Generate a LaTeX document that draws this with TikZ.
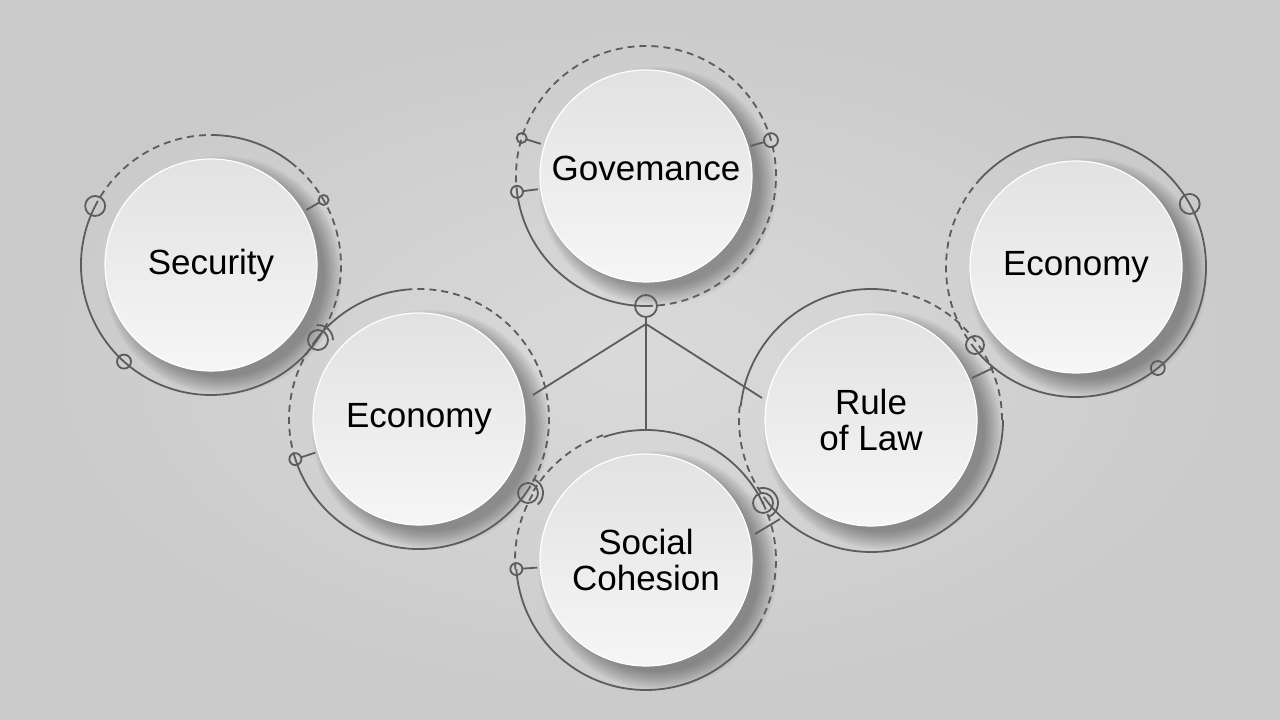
\documentclass[tikz,border=0pt]{standalone}
\usepackage{fontspec}
\setmainfont{Liberation Sans}
\definecolor{bgin}{HTML}{DADADA}
\definecolor{bgout}{HTML}{CACACA}
\definecolor{ringc}{HTML}{5C5C5C}
\definecolor{ctop}{HTML}{E2E2E2}
\definecolor{cbot}{HTML}{F6F6F6}
\newcommand\dropshadow[1]{\foreach \k in {1,...,12}{\fill[black,opacity=0.03] ([shift={(12pt,-10pt)}]#1) circle[radius=100+1.6*\k];}}
\newcommand\ringarc[5]{\draw[#1] (#2) ++({#3}:{#5}) arc[start angle=#3,end angle=#4,radius=#5];}
\newcommand\ringknob[4]{\draw[knob] (#1) ++({#2}:{#3}) circle[radius=#4];}
\newcommand\ringtick[4]{\draw[knob] (#1) ++({#2}:{#3}) -- ++({#2+180}:{#4});}
\begin{document}
\begin{tikzpicture}[x=1pt,y=1pt,
  bub/.style={circle, minimum size=212pt, inner sep=0pt, draw=white, line width=1.2pt,
    top color=ctop, bottom color=cbot, align=center,
    font=\fontsize{35}{36}\selectfont, text=black},
  ringsolid/.style={draw=ringc, line width=1.8pt},
  ringdash/.style={draw=ringc, line width=1.8pt, dash pattern=on 7pt off 5pt},
  knob/.style={draw=ringc, line width=1.8pt},
  spoke/.style={draw=ringc, line width=1.8pt}]
\shade[inner color=bgin, outer color=bgout] (0,0) rectangle (1280,720);
\useasboundingbox (0,0) rectangle (1280,720);
% centres
\coordinate (cGov) at (646,544);
\coordinate (cSec) at (211,455);
\coordinate (cEcoL) at (419,301);
\coordinate (cSoc) at (646,160);
\coordinate (cRule) at (871,300);
\coordinate (cEcoR) at (1076,453);
% shadows
\dropshadow{cGov}\dropshadow{cSec}\dropshadow{cEcoL}
\dropshadow{cSoc}\dropshadow{cRule}\dropshadow{cEcoR}
% Governance ring
\ringarc{ringsolid}{cGov}{187}{270}{130}
\ringarc{ringdash}{cGov}{270}{547}{130}
\ringknob{cGov}{163}{130}{5}\ringtick{cGov}{163}{125}{15}
\ringknob{cGov}{187}{130}{6}\ringtick{cGov}{187}{124}{15}
\ringknob{cGov}{16}{130}{7}\ringtick{cGov}{16}{123}{14}
\coordinate (govKnob) at (646,414);
\draw[knob] (govKnob) circle[radius=11];
\draw[draw=ringc, line width=1pt] ([xshift=-3pt]govKnob) -- ([xshift=3pt]govKnob);
% Security ring
\ringarc{ringsolid}{cSec}{153}{325}{130}
\ringarc{ringdash}{cSec}{325}{409}{130}
\ringarc{ringsolid}{cSec}{49}{87}{130}
\ringarc{ringdash}{cSec}{87}{153}{130}
\ringknob{cSec}{153}{130}{10}
\ringknob{cSec}{30}{130}{5}\ringtick{cSec}{30}{125}{15}
\ringknob{cSec}{228}{130}{7}
% Economy (left) ring
\ringarc{ringsolid}{cEcoL}{94}{142}{130}
\ringarc{ringdash}{cEcoL}{142}{198}{130}
\ringarc{ringsolid}{cEcoL}{198}{326}{130}
\ringarc{ringdash}{cEcoL}{326}{454}{130}
\ringknob{cEcoL}{198}{130}{6}\ringtick{cEcoL}{198}{124}{15}
% Social Cohesion ring
\ringarc{ringdash}{cSoc}{109}{150}{132}
\ringarc{ringsolid}{cSoc}{26}{109}{130}
\ringarc{ringdash}{cSoc}{330}{386}{130}
\ringarc{ringsolid}{cSoc}{184}{330}{130}
\ringarc{ringdash}{cSoc}{150}{184}{131}
\ringknob{cSoc}{184}{130}{6}\ringtick{cSoc}{184}{124}{15}
% Rule of Law ring
\ringarc{ringsolid}{cRule}{217}{360}{132}
\ringarc{ringdash}{cRule}{0}{82}{131}
\ringarc{ringsolid}{cRule}{82}{174}{131}
\ringarc{ringdash}{cRule}{174}{217}{132}
% Economy (right) ring
\ringarc{ringsolid}{cEcoR}{217}{497}{130}
\ringarc{ringdash}{cEcoR}{137}{217}{130}
\ringknob{cEcoR}{29}{130}{10}
\ringknob{cEcoR}{-51}{130}{7}
% junctions
\coordinate (j1) at (318,380);
\coordinate (j2) at (528,227);
\coordinate (j3) at (763,217);
\coordinate (j4) at (975,375);
\draw[knob] (j1) circle[radius=10];
\draw[knob] (j1) ++(0:15) arc[start angle=0,end angle=95,radius=15];
\draw[knob] (j2) circle[radius=10];
\draw[knob] (j2) ++(-50:15) arc[start angle=-50,end angle=70,radius=15];
\draw[knob] (j3) circle[radius=10];
\fill[ringc] (j3) circle[radius=1.6];
\draw[knob] (j3) ++(-70:15) arc[start angle=-70,end angle=110,radius=15];
\coordinate (j3a) at (780,201);
\coordinate (j3b) at (755,186);
\draw[knob] (j3a) -- (j3b);
\draw[knob] (j4) circle[radius=9];
\coordinate (j4a) at (972,342);
\coordinate (j4b) at (993,352);
\draw[knob] (j4a) -- (j4b);
% spokes from Governance
\coordinate (hub) at (646,396);
\coordinate (eL) at (533,325);
\coordinate (eS) at (646,290);
\coordinate (eR) at (762,322);
\draw[spoke] ([yshift=-11pt]govKnob) -- (hub);
\draw[spoke] (hub) -- (eL);
\draw[spoke] (hub) -- (eS);
\draw[spoke] (hub) -- (eR);
% bubbles
\node[bub] (gov) at (cGov) {\raisebox{16pt}{Govemance}};
\node[bub] (sec) at (cSec) {Security};
\node[bub] (ecoL) at (cEcoL) {Economy};
\node[bub] (soc) at (cSoc) {Social\\Cohesion};
\node[bub] (rule) at (cRule) {Rule\\of Law};
\node[bub] (ecoR) at (cEcoR) {Economy};
\end{tikzpicture}
\end{document}
